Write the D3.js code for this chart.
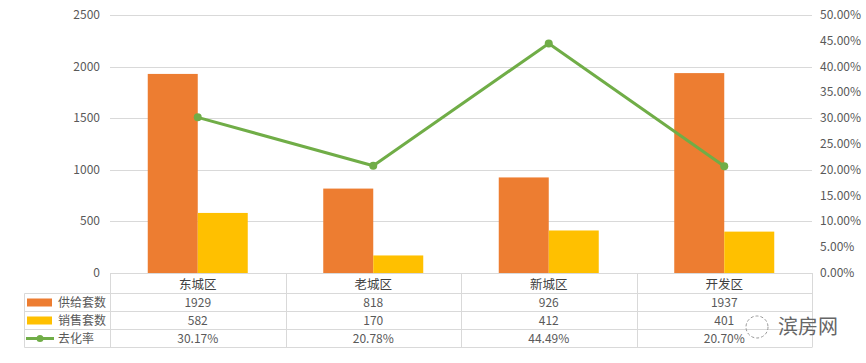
<!DOCTYPE html>
<html>
<head>
<meta charset="utf-8">
<script src="https://cdn.jsdelivr.net/npm/d3@7.9.0/dist/d3.min.js"></script>
<style>
  body { margin: 0; background: #fff; }
  svg { display: block; font-family: "Noto Sans CJK SC", "Noto Sans", sans-serif; }
</style>
</head>
<body>
<svg id="chart" width="866" height="363"></svg>
<script>
const districts = ['东城区', '老城区', '新城区', '开发区'];
const supply = [1929, 818, 926, 1937];
const sales = [582, 170, 412, 401];
const rate = [0.3017, 0.2078, 0.4449, 0.2070];
const seriesNames = ['供给套数', '销售套数', '去化率'];
const leftTicks = [0, 500, 1000, 1500, 2000, 2500];
const rightTicks = [0, 0.05, 0.10, 0.15, 0.20, 0.25, 0.30, 0.35, 0.40, 0.45, 0.50];

const colors = { supply: '#ED7D31', sales: '#FFC000', rate: '#70AD47' };
const textColor = '#595959';
const gridColor = '#d9d9d9';

const svg = d3.select('#chart');
const plotLeft = 110, plotRight = 812, plotTop = 15, plotBottom = 273;

const x = d3.scaleBand().domain(districts).range([plotLeft, plotRight]);
const yL = d3.scaleLinear().domain([0, 2500]).range([plotBottom, plotTop]);
const yR = d3.scaleLinear().domain([0, 0.5]).range([plotBottom, plotTop]);
const inner = d3.scaleBand().domain(['supply', 'sales']).range([0, 100]);

// gridlines
svg.append('g')
  .selectAll('line')
  .data(leftTicks)
  .join('line')
  .attr('x1', plotLeft).attr('x2', plotRight)
  .attr('y1', d => Math.round(yL(d)) + 0.5).attr('y2', d => Math.round(yL(d)) + 0.5)
  .attr('stroke', gridColor).attr('stroke-width', 1);

// left axis labels
svg.append('g')
  .selectAll('text')
  .data(leftTicks)
  .join('text')
  .attr('x', 100).attr('y', d => yL(d) + 4)
  .attr('text-anchor', 'end')
  .attr('font-size', 12).attr('fill', textColor)
  .text(d => d);

// right axis labels
svg.append('g')
  .selectAll('text')
  .data(rightTicks)
  .join('text')
  .attr('x', 820).attr('y', d => yR(d) + 4)
  .attr('font-size', 12).attr('fill', textColor)
  .text(d => d3.format('.2%')(d));

// bars
const bars = svg.append('g');
districts.forEach((d, i) => {
  const x0 = x(d) + x.bandwidth() / 2 - 50;
  bars.append('rect')
    .attr('x', x0 + inner('supply')).attr('width', inner.bandwidth())
    .attr('y', yL(supply[i])).attr('height', plotBottom - yL(supply[i]))
    .attr('fill', colors.supply);
  bars.append('rect')
    .attr('x', x0 + inner('sales')).attr('width', inner.bandwidth())
    .attr('y', yL(sales[i])).attr('height', plotBottom - yL(sales[i]))
    .attr('fill', colors.sales);
});

// line
const cx = d => x(d) + x.bandwidth() / 2;
const line = d3.line().x((d, i) => cx(districts[i])).y(d => yR(d));
svg.append('path')
  .datum(rate)
  .attr('d', line)
  .attr('fill', 'none')
  .attr('stroke', colors.rate).attr('stroke-width', 3)
  .attr('stroke-linejoin', 'round');
svg.append('g')
  .selectAll('circle')
  .data(rate)
  .join('circle')
  .attr('cx', (d, i) => cx(districts[i])).attr('cy', d => yR(d))
  .attr('r', 4).attr('fill', colors.rate);

// data table
const rows = [293.5, 311.5, 329.5, 347.5];
const tableLeft = 24.5;
const table = svg.append('g').attr('stroke', gridColor).attr('stroke-width', 1);
table.append('line').attr('x1', plotLeft).attr('x2', plotRight).attr('y1', plotBottom + 0.5).attr('y2', plotBottom + 0.5);
rows.forEach(r => {
  table.append('line').attr('x1', tableLeft).attr('x2', plotRight).attr('y1', r).attr('y2', r);
});
[plotLeft, ...districts.map(d => x(d) + x.bandwidth())].forEach(v => {
  const vx = Math.round(v) + 0.5;
  table.append('line').attr('x1', vx).attr('x2', vx).attr('y1', plotBottom).attr('y2', 347.5);
});
table.append('line').attr('x1', tableLeft).attr('x2', tableLeft).attr('y1', 293.5).attr('y2', 347.5);

// header labels
svg.append('g')
  .selectAll('text')
  .data(districts)
  .join('text')
  .attr('x', d => cx(d)).attr('y', 289)
  .attr('text-anchor', 'middle')
  .attr('font-size', 12.5).attr('fill', '#404040')
  .text(d => d);

const rowValues = [
  supply.map(String),
  sales.map(String),
  rate.map(v => d3.format('.2%')(v))
];
rowValues.forEach((vals, r) => {
  const yMid = (rows[r] + rows[r + 1]) / 2;
  svg.append('g')
    .selectAll('text')
    .data(vals)
    .join('text')
    .attr('x', (d, i) => cx(districts[i])).attr('y', yMid + 4)
    .attr('text-anchor', 'middle')
    .attr('font-size', 12).attr('fill', textColor)
    .text(d => d);

  // legend key
  const key = svg.append('g');
  if (r < 2) {
    key.append('rect')
      .attr('x', 27).attr('y', yMid - 4).attr('width', 25).attr('height', 8)
      .attr('fill', r === 0 ? colors.supply : colors.sales);
  } else {
    key.append('line')
      .attr('x1', 26).attr('x2', 54).attr('y1', yMid).attr('y2', yMid)
      .attr('stroke', colors.rate).attr('stroke-width', 3);
    key.append('circle').attr('cx', 40).attr('cy', yMid).attr('r', 3.5).attr('fill', colors.rate);
  }
  key.append('text')
    .attr('x', 58).attr('y', yMid + 4.5)
    .attr('font-size', 12).attr('fill', textColor)
    .text(seriesNames[r]);
});

// watermark
const wm = svg.append('g').attr('fill', 'none').attr('stroke', '#999');
wm.append('circle').attr('cx', 757).attr('cy', 327).attr('r', 11).attr('stroke-dasharray', '3,2');
svg.append('text')
  .attr('x', 778).attr('y', 334)
  .attr('font-size', 20).attr('fill', '#666')
  .text('滨房网');
</script>
</body>
</html>
